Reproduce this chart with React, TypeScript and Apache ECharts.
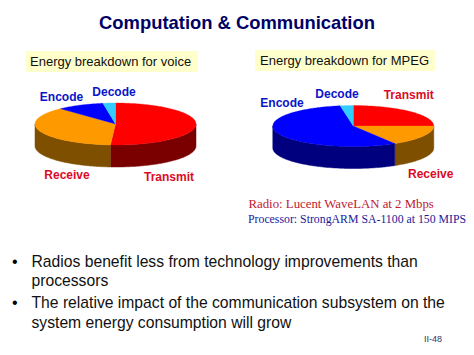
import React, { useEffect, useRef } from "react";
import * as echarts from "echarts";

const categories = ["Transmit", "Receive", "Encode", "Decode"];
const voiceValues = [51, 37, 9.5, 2.5];
const mpegValues = [25, 16.4, 56, 2.6];
const voiceTitle = "Energy breakdown for voice";
const mpegTitle = "Energy breakdown for MPEG";
const slideTitle = "Computation & Communication";
const radioNote = "Radio: Lucent WaveLAN at 2 Mbps";
const processorNote = "Processor: StrongARM SA-1100 at 150 MIPS";
const bulletLines = [
  ["Radios benefit less from technology improvements than", "processors"],
  ["The relative impact of the communication subsystem on the", "system energy consumption will grow"],
];
const pageNumber = "II-48";

const topColors = ["#ff0000", "#ff9900", "#0000ff", "#33ccff"];
const sideColors = ["#7a0000", "#7f4f00", "#00007f", "#197f99"];
const SANS = "Liberation Sans, Arial, sans-serif";
const SERIF = "Liberation Serif, Times New Roman, serif";
const LABEL_BLUE = "#0a14c8";
const LABEL_RED = "#dc0a28";

function pieSeries(values: number[], cx: number, cy: number, rx: number, ry: number, depth: number) {
  const total = values.reduce((a, b) => a + b, 0);
  const point = (deg: number, dy = 0) => {
    const a = (deg * Math.PI) / 180;
    return [cx + rx * Math.sin(a), cy - ry * Math.cos(a) + dy];
  };
  const starts: number[] = [];
  let acc = 0;
  values.forEach((v) => {
    starts.push((acc / total) * 360);
    acc += v;
  });
  return {
    type: "custom",
    coordinateSystem: "none",
    silent: true,
    data: values,
    renderItem: (params: any, api: any) => {
      const i = params.dataIndex;
      const v = api.value(0);
      const start = starts[i];
      const end = start + (v / total) * 360;
      const arc: number[][] = [];
      for (let d = start; d < end; d += 1) arc.push(point(d));
      arc.push(point(end));
      const children: any[] = [];
      // outer wall: only the front half (90..270 degrees) is visible
      const from = Math.max(start, 90);
      const to = Math.min(end, 270);
      if (to > from) {
        const upper: number[][] = [];
        const lower: number[][] = [];
        for (let d = from; d < to; d += 1) {
          upper.push(point(d));
          lower.unshift(point(d, depth));
        }
        upper.push(point(to));
        lower.unshift(point(to, depth));
        children.push({
          type: "polygon",
          shape: { points: [...upper, ...lower] },
          style: { fill: sideColors[i], stroke: sideColors[i], lineWidth: 0.5 },
        });
      }
      children.push({
        type: "polygon",
        shape: { points: [[cx, cy], ...arc] },
        style: { fill: topColors[i], stroke: topColors[i], lineWidth: 0.3 },
      });
      return { type: "group", children };
    },
  };
}

const txt = (text: string, x: number, y: number, font: any, fill: string, align = "left") => ({
  type: "text",
  x,
  y,
  style: { text, fill, align, verticalAlign: "middle", ...font },
});
const sans = (size: number, weight = "normal") => ({ fontFamily: SANS, fontSize: size, fontWeight: weight });
const serif = (size: number) => ({ fontFamily: SERIF, fontSize: size });

export default function App() {
  const ref = useRef<HTMLDivElement>(null);
  useEffect(() => {
    const chart = echarts.init(ref.current!, null, { renderer: "svg" });
    const bullets: any[] = [];
    const bulletY = [[261, 280.5], [302.5, 322]];
    bulletLines.forEach((lines, i) => {
      bullets.push(txt("•", 12, bulletY[i][0], sans(16), "#000000"));
      lines.forEach((l, j) => bullets.push(txt(l, 31.5, bulletY[i][j], sans(15.7), "#111111")));
    });
    chart.setOption({
      animation: false,
      backgroundColor: "#ffffff",
      series: [
        pieSeries(voiceValues, 115.5, 124, 80.5, 21, 22),
        pieSeries(mpegValues, 353.3, 126, 80.5, 20.5, 22),
      ],
      graphic: [
        txt(slideTitle, 237, 22, sans(18.4, "bold"), "#000066", "center"),
        { type: "rect", shape: { x: 26, y: 51, width: 172, height: 21 }, style: { fill: "#ffffcc" } },
        txt(voiceTitle, 30, 61.5, sans(13), "#111111"),
        { type: "rect", shape: { x: 255, y: 50, width: 180, height: 21 }, style: { fill: "#ffffcc" } },
        txt(mpegTitle, 260, 60.5, sans(13), "#111111"),
        txt(categories[2], 61.5, 96.7, sans(12, "bold"), LABEL_BLUE, "center"),
        txt(categories[3], 114, 92, sans(12, "bold"), LABEL_BLUE, "center"),
        txt(categories[1], 67, 175, sans(12, "bold"), LABEL_RED, "center"),
        txt(categories[0], 169, 177, sans(12, "bold"), LABEL_RED, "center"),
        txt(categories[2], 282, 102.7, sans(12, "bold"), LABEL_BLUE, "center"),
        txt(categories[3], 337, 93.7, sans(12, "bold"), LABEL_BLUE, "center"),
        txt(categories[0], 408.7, 95, sans(12, "bold"), LABEL_RED, "center"),
        txt(categories[1], 430.7, 174, sans(12, "bold"), LABEL_RED, "center"),
        txt(radioNote, 248.5, 204, serif(12.8), "#c02030"),
        txt(processorNote, 248, 219, serif(11.8), "#1a1a9a"),
        ...bullets,
        txt(pageNumber, 442, 339, sans(9), "#333366", "right"),
      ],
    });
    return () => chart.dispose();
  }, []);
  return <div ref={ref} style={{ position: "fixed", left: 0, top: 0, width: 474, height: 355 }} />;
}
